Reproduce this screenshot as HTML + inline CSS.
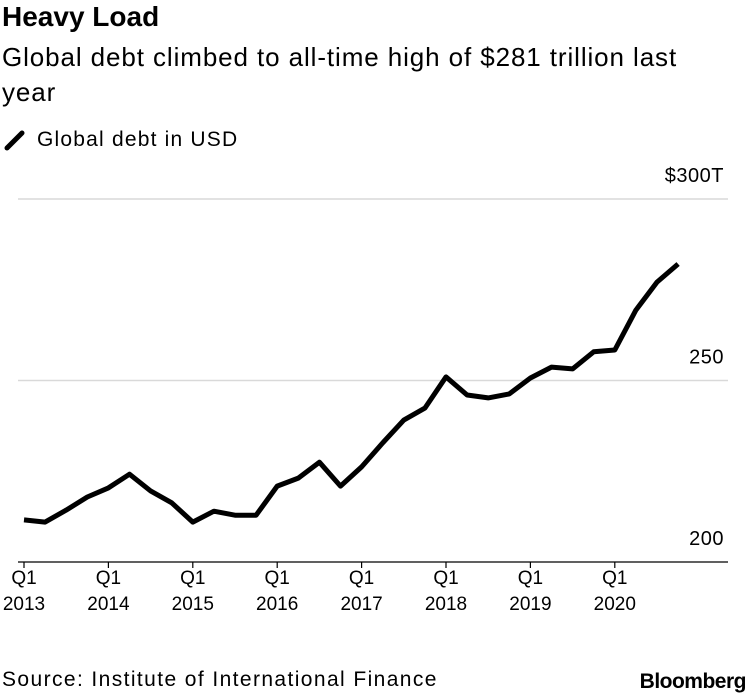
<!DOCTYPE html>
<html><head><meta charset="utf-8">
<style>
body{margin:0;background:#fff;font-family:"Liberation Sans",Arial,sans-serif;}
#wrap{position:relative;width:750px;height:696px;overflow:hidden;}
.t{position:absolute;white-space:nowrap;color:#000;}
</style></head>
<body>
<div id="wrap">
<div class="t" style="left:2px;top:1px;font-size:28px;font-weight:bold;">Heavy Load</div>
<div class="t" style="left:2px;top:40px;font-size:26px;letter-spacing:0.9px;line-height:35px;white-space:normal;width:700px;">Global debt climbed to all-time high of $281 trillion last year</div>
<div style="position:absolute;left:4px;top:128px;">
<svg width="24" height="24" style="position:absolute;left:0;top:0"><line x1="3" y1="20" x2="18" y2="5" stroke="#000" stroke-width="5" stroke-linecap="round"/></svg>
<div class="t" style="left:33px;top:0px;font-size:21px;letter-spacing:1.2px;">Global debt in USD</div>
</div>
<svg id="chart" width="750" height="696" style="position:absolute;left:0;top:0"></svg>
<div class="t" style="left:2px;top:668px;font-size:21px;letter-spacing:1.4px;">Source: Institute of International Finance</div>
<div class="t" style="right:4px;top:670px;font-size:21px;font-weight:bold;letter-spacing:-0.5px;">Bloomberg</div>
</div>
<script>
const values=[211.6,211.0,214.3,217.9,220.4,224.2,219.6,216.3,211.0,214.0,212.9,212.9,220.9,223.1,227.5,220.9,226.2,232.8,239.1,242.4,251.0,246.0,245.2,246.3,250.7,253.7,253.2,257.9,258.4,269.4,277.1,282.1];
const yTicks=[200,250,300];
const yTickLabels=["200","250","$300T"];
const xYears=["2013","2014","2015","2016","2017","2018","2019","2020"];
const NS="http://www.w3.org/2000/svg";
const svg=document.getElementById('chart');
const x0=24,qStep=21.1,yBase=562,yMin=200,yMax=300,yTop=199;
function xs(i){return x0+i*qStep;}
function ys(v){return yBase-(v-yMin)/(yMax-yMin)*(yBase-yTop);}
function mk(tag,attrs){const e=document.createElementNS(NS,tag);for(const k in attrs)e.setAttribute(k,attrs[k]);svg.appendChild(e);return e;}
yTicks.forEach((v,i)=>{
  if(v!==yMin){const g=mk('line',{x1:18,x2:728,y1:ys(v),y2:ys(v),stroke:'#d9d9d9','stroke-width':1.5});
  
  }
  const t=mk('text',{x:724,y:ys(v)-17,'text-anchor':'end','font-size':20,'letter-spacing':0.5,'font-family':'Liberation Sans, Arial, sans-serif'});
  t.textContent=yTickLabels[i];
  
  
});
const ax=mk('line',{x1:18,x2:728,y1:yBase,y2:yBase,stroke:'#000','stroke-width':1.2});


xYears.forEach((yr,i)=>{
  const x=xs(i*4);
  const tk=mk('line',{x1:x,x2:x,y1:yBase,y2:yBase+6,stroke:'#000','stroke-width':1.2});
  
  
  const t1=mk('text',{x:x,y:584,'text-anchor':'middle','font-size':19,'font-family':'Liberation Sans, Arial, sans-serif'});
  t1.textContent='Q1';
  
  
  const t2=mk('text',{x:x,y:610,'text-anchor':'middle','font-size':19,'font-family':'Liberation Sans, Arial, sans-serif'});
  t2.textContent=yr;
  
  
});
const d=values.map((v,i)=>(i?'L':'M')+xs(i).toFixed(1)+','+ys(v).toFixed(1)).join(' ');
const p=mk('path',{d:d,fill:'none',stroke:'#000','stroke-width':5,'stroke-linejoin':'round','stroke-linecap':'butt'});


</script>
</body></html>
